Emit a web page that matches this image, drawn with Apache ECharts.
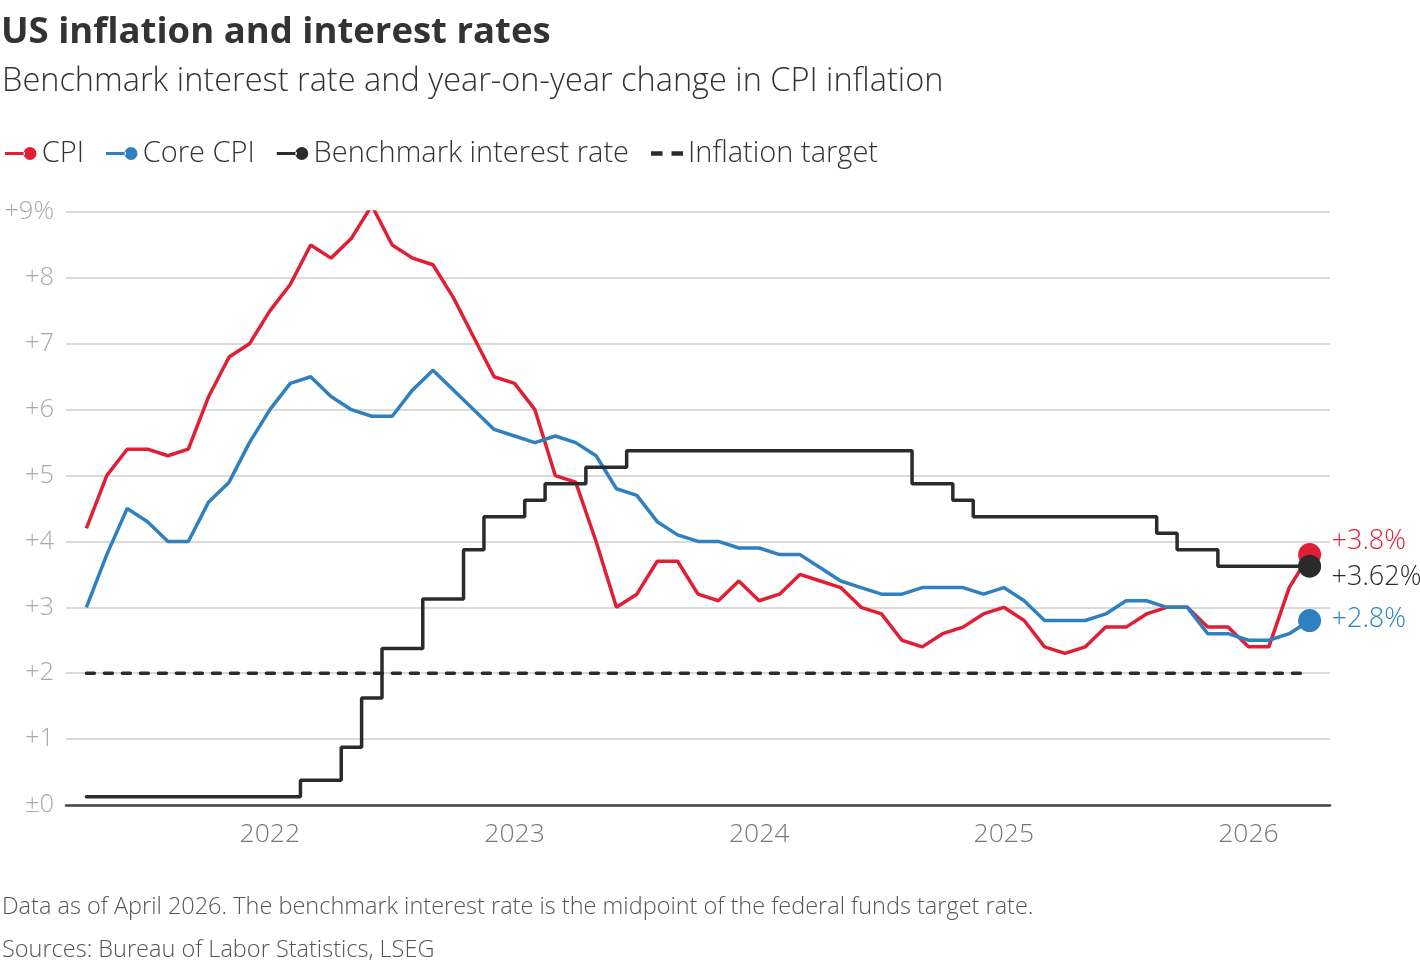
<!DOCTYPE html>
<html>
<head>
<meta charset="utf-8">
<title>US inflation and interest rates</title>
<script src="https://cdn.jsdelivr.net/npm/echarts@6/dist/echarts.min.js"></script>
<style>
  html, body { margin: 0; padding: 0; background: #fff; }
  #main { width: 1420px; height: 964px; }
</style>
</head>
<body>
<div id="main"></div>
<script>
// monthly readings, first one is April 2021 (x = months since Jan 2021)
var startMonth = 3;
var cpi = [
  4.2, 5.0, 5.4, 5.4, 5.3, 5.4, 6.2, 6.8, 7.0,
  7.5, 7.9, 8.5, 8.3, 8.6, 9.1, 8.5, 8.3, 8.2, 7.7, 7.1, 6.5,
  6.4, 6.0, 5.0, 4.9, 4.0, 3.0, 3.2, 3.7, 3.7, 3.2, 3.1, 3.4,
  3.1, 3.2, 3.5, 3.4, 3.3, 3.0, 2.9, 2.5, 2.4, 2.6, 2.7, 2.9,
  3.0, 2.8, 2.4, 2.3, 2.4, 2.7, 2.7, 2.9, 3.0, 3.0, 2.7, 2.7,
  2.4, 2.4, 3.3, 3.8
];
var coreCpi = [
  3.0, 3.8, 4.5, 4.3, 4.0, 4.0, 4.6, 4.9, 5.5,
  6.0, 6.4, 6.5, 6.2, 6.0, 5.9, 5.9, 6.3, 6.6, 6.3, 6.0, 5.7,
  5.6, 5.5, 5.6, 5.5, 5.3, 4.8, 4.7, 4.3, 4.1, 4.0, 4.0, 3.9,
  3.9, 3.8, 3.8, 3.6, 3.4, 3.3, 3.2, 3.2, 3.3, 3.3, 3.3, 3.2,
  3.3, 3.1, 2.8, 2.8, 2.8, 2.9, 3.1, 3.1, 3.0, 3.0, 2.6, 2.6,
  2.5, 2.5, 2.6, 2.8
];
// midpoint of fed funds target range, end of month
var fedRate = [
  0.125, 0.125, 0.125, 0.125, 0.125, 0.125, 0.125, 0.125, 0.125,
  0.125, 0.125, 0.375, 0.375, 0.875, 1.625, 2.375, 2.375, 3.125, 3.125, 3.875, 4.375,
  4.375, 4.625, 4.875, 4.875, 5.125, 5.125, 5.375, 5.375, 5.375, 5.375, 5.375, 5.375,
  5.375, 5.375, 5.375, 5.375, 5.375, 5.375, 5.375, 5.375, 4.875, 4.875, 4.625, 4.375,
  4.375, 4.375, 4.375, 4.375, 4.375, 4.375, 4.375, 4.375, 4.125, 3.875, 3.875, 3.625,
  3.625, 3.625, 3.625, 3.625
];
var targetRate = 2;
var endLabels = ['+3.8%', '+2.8%', '+3.62%'];
var yearLabels = [2022, 2023, 2024, 2025, 2026];
var yLabels = ['±0', '+1', '+2', '+3', '+4', '+5', '+6', '+7', '+8', '+9%'];

var red = '#e01f35', blue = '#2f80c0', dark = '#2b2b2b';
var font = 'Open Sans';

function toPoints(arr) {
  return arr.map(function (v, i) {
    if (i == arr.length - 1) {
      return { value: [startMonth + i, v], symbol: 'circle', symbolSize: 23 };
    }
    return [startMonth + i, v];
  });
}

function lineIcon() {
  return 'path://M0,5h20v3h-20z M18.5,6.5a6.5,6.5 0 1,0 13,0a6.5,6.5 0 1,0 -13,0z';
}

var chart = echarts.init(document.getElementById('main'));

var option = {
  animation: false,
  textStyle: { fontFamily: font },
  title: [{
    text: 'US inflation and interest rates',
    left: -4, top: 9,
    textStyle: { fontSize: 36.5, fontWeight: 'bold', color: '#333', fontFamily: font }
  }, {
    text: 'Benchmark interest rate and year-on-year change in CPI inflation',
    left: -3, top: 60,
    textStyle: { fontSize: 32.5, fontWeight: 300, color: '#333', fontFamily: font }
  }, {
    text: 'Data as of April 2026. The benchmark interest rate is the midpoint of the federal funds target rate.',
    left: -3, top: 890,
    textStyle: { fontSize: 23.5, fontWeight: 300, color: '#555', fontFamily: font }
  }, {
    text: 'Sources: Bureau of Labor Statistics, LSEG',
    left: -3, top: 933,
    textStyle: { fontSize: 23.5, fontWeight: 300, color: '#555', fontFamily: font }
  }],
  legend: {
    left: 0, top: 134,
    itemGap: 22,
    itemWidth: 32, itemHeight: 13,
    textStyle: { fontSize: 29, fontWeight: 300, color: '#333', fontFamily: font },
    data: [
      { name: 'CPI', icon: lineIcon() },
      { name: 'Core CPI', icon: lineIcon() },
      { name: 'Benchmark interest rate', icon: lineIcon() },
      { name: 'Inflation target', icon: 'path://M0,0h9v3.5h-9z M16,0h9v3.5h-9z', itemStyle: { color: dark } }
    ]
  },
  grid: {
    left: 66, right: 90, top: 212, bottom: 159,
    containLabel: false, outerBoundsMode: 'none'
  },
  xAxis: {
    type: 'value',
    min: 2, max: 64,
    splitLine: { show: false },
    axisTick: { show: false },
    axisLine: { show: true, onZero: true, lineStyle: { color: '#444', width: 2.5 } },
    axisLabel: {
      customValues: yearLabels.map(function (y) { return (y - 2021) * 12; }),
      formatter: function (v) { return String(2021 + v / 12); },
      color: '#777', fontSize: 26.5, margin: 16, fontWeight: 300
    }
  },
  yAxis: {
    type: 'value',
    min: 0, max: 9, interval: 1,
    axisLine: { show: false },
    axisTick: { show: false },
    splitLine: { lineStyle: { color: '#cfcfcf', width: 1.5 } },
    axisLabel: {
      formatter: function (v) { return yLabels[v]; },
      color: '#aaa', fontSize: 25.5, margin: 12, fontWeight: 300
    }
  },
  series: [{
    name: 'Inflation target',
    type: 'line',
    symbol: 'none',
    silent: true,
    data: [[startMonth, targetRate], [startMonth + cpi.length - 1, targetRate]],
    itemStyle: { color: dark },
    lineStyle: { color: dark, width: 3.5, type: [8, 10], cap: 'round' }
  }, {
    name: 'CPI',
    type: 'line',
    symbol: 'none',
    silent: true,
    data: toPoints(cpi),
    itemStyle: { color: red },
    lineStyle: { color: red, width: 3.5 },
    endLabel: {
      show: true, formatter: endLabels[0], color: red,
      fontSize: 27, fontWeight: 300, distance: 22, offset: [0, -13]
    }
  }, {
    name: 'Core CPI',
    type: 'line',
    symbol: 'none',
    silent: true,
    data: toPoints(coreCpi),
    itemStyle: { color: blue },
    lineStyle: { color: blue, width: 3.5 },
    endLabel: {
      show: true, formatter: endLabels[1], color: blue,
      fontSize: 27, fontWeight: 300, distance: 22, offset: [0, -1]
    }
  }, {
    name: 'Benchmark interest rate',
    type: 'line',
    step: 'middle',
    symbol: 'none',
    silent: true,
    data: toPoints(fedRate),
    itemStyle: { color: dark },
    lineStyle: { color: dark, width: 3.5, cap: 'round' },
    endLabel: {
      show: true, formatter: endLabels[2], color: dark,
      fontSize: 27, fontWeight: 300, distance: 22, offset: [0, 11]
    }
  }]
};

chart.setOption(option);
</script>
</body>
</html>
